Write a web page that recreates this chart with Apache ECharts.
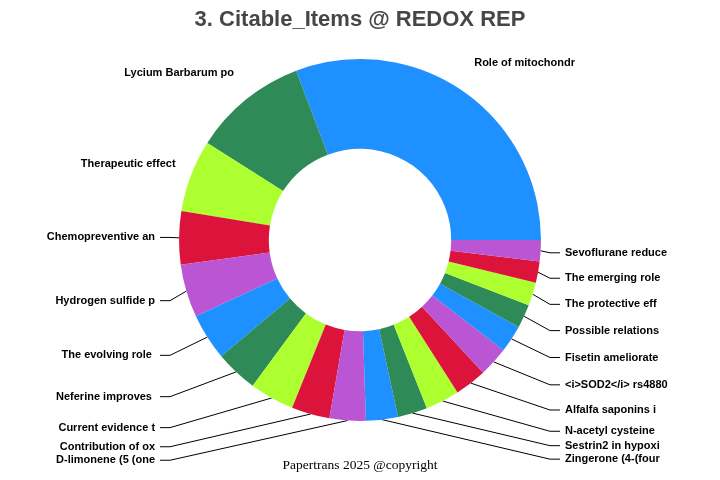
<!DOCTYPE html>
<html>
<head>
<meta charset="utf-8">
<script src="https://cdn.jsdelivr.net/npm/echarts@6/dist/echarts.min.js"></script>
<style>
    html, body { margin: 0; padding: 0; background: #fff; }
    #chartContainer { width: 720px; height: 480px; }
</style>
</head>
<body>
<div id="chartContainer"></div>
<script>
const titles = [
    'Role of mitochondr', 'Lycium Barbarum po', 'Therapeutic effect', 'Chemopreventive an',
    'Hydrogen sulfide p', 'The evolving role ', 'Neferine improves ', 'Current evidence t',
    'Contribution of ox', 'D-limonene (5 (one', 'Zingerone (4-(four', 'Sestrin2 in hypoxi',
    'N-acetyl cysteine ', 'Alfalfa saponins i', '<i>SOD2</i> rs4880', 'Fisetin ameliorate',
    'Possible relations', 'The protective eff', 'The emerging role ', 'Sevoflurane reduce'
];
const citableItems = [162, 54, 34, 25, 25, 22, 20, 21, 18, 17, 15, 14, 16, 15, 14, 13, 11, 11, 10, 10];
const sliceColors = ['#1E90FF', '#2E8B57', '#ADFF2F', '#DC143C', '#BA55D3'];
// the three biggest slices carry their label without a leader line
const noLineCount = 3;

const chart = echarts.init(document.getElementById('chartContainer'));

// label geometry (styling only)
const outerPct = 0.754, innerPct = 0.38;
const labelRadiusY = 34;   // extra radius used for the label rows
const labelRadiusX = 11;   // extra radius for labels without leader line
const lineReach = 19;      // leader line end beyond the outer edge
const bendLen = 10;
const textGap = 5;
const rowHeight = 13.5;

// mid angle of every slice (counter-clockwise from 3 o'clock)
const total = citableItems.reduce((a, b) => a + b, 0);
const midAngles = [];
let acc = 0;
citableItems.forEach(v => {
    midAngles.push((acc + v / 2) / total * Math.PI * 2);
    acc += v;
});

function labelRows() {
    const w = chart.getWidth(), h = chart.getHeight();
    const cx = w / 2, cy = h / 2;
    const r = Math.min(w, h) / 2 * outerPct;
    const rows = midAngles.map((a, i) => ({
        i: i,
        right: Math.cos(a) >= 0,
        y: cy - (r + labelRadiusY) * Math.sin(a)
    }));
    // push overlapping rows downward, per side
    [true, false].forEach(side => {
        const list = rows.filter(o => o.right === side).sort((a, b) => a.y - b.y);
        for (let k = 1; k < list.length; k++) {
            if (list[k].y - list[k - 1].y < rowHeight) {
                list[k].y = list[k - 1].y + rowHeight;
            }
        }
    });
    const out = [];
    rows.forEach(o => { out[o.i] = o; });
    return { rows: out, cx: cx, cy: cy, r: r };
}

function placeLabel(params) {
    const g = labelRows();
    const i = params.dataIndex;
    const a = midAngles[i];
    const row = g.rows[i];
    const dir = row.right ? 1 : -1;
    const align = row.right ? 'left' : 'right';
    if (i < noLineCount) {
        return {
            x: g.cx + (g.r + labelRadiusX) * Math.cos(a) + dir * textGap,
            y: row.y,
            align: align,
            verticalAlign: 'middle'
        };
    }
    const p0 = [g.cx + g.r * Math.cos(a), g.cy - g.r * Math.sin(a)];
    const endX = g.cx + dir * (g.r + lineReach);
    return {
        x: endX + dir * textGap,
        y: row.y,
        align: align,
        verticalAlign: 'middle',
        labelLinePoints: [p0, [endX - dir * bendLen, row.y], [endX, row.y]]
    };
}

chart.setOption({
    backgroundColor: '#fff',
    color: sliceColors,
    title: [
        {
            text: '3. Citable_Items @ REDOX REP',
            left: 'center',
            top: 4,
            textStyle: {
                color: '#464646',
                fontSize: 22,
                fontWeight: 'bold',
                fontFamily: 'Liberation Sans, Arial, sans-serif'
            }
        },
        {
            text: 'Papertrans 2025 @copyright',
            left: 'center',
            top: 453,
            textStyle: {
                color: '#000',
                fontSize: 13.5,
                fontWeight: 'normal',
                fontFamily: 'Liberation Serif, Times New Roman, serif'
            }
        }
    ],
    series: [
        {
            type: 'pie',
            center: ['50%', '50%'],
            radius: [(innerPct * 100) + '%', (outerPct * 100) + '%'],
            startAngle: 0,
            clockwise: false,
            avoidLabelOverlap: true,
            label: {
                show: true,
                color: '#000',
                fontSize: 11,
                fontWeight: 'bold',
                fontFamily: 'Liberation Sans, Arial, sans-serif'
            },
            labelLine: {
                show: true,
                length: 10,
                length2: 10,
                lineStyle: { color: '#000', width: 1 }
            },
            labelLayout: placeLabel,
            itemStyle: { borderWidth: 0 },
            emphasis: { disabled: true },
            data: titles.map((t, i) => ({
                name: t,
                value: citableItems[i],
                labelLine: { show: i >= noLineCount }
            }))
        }
    ]
});
</script>
</body>
</html>
